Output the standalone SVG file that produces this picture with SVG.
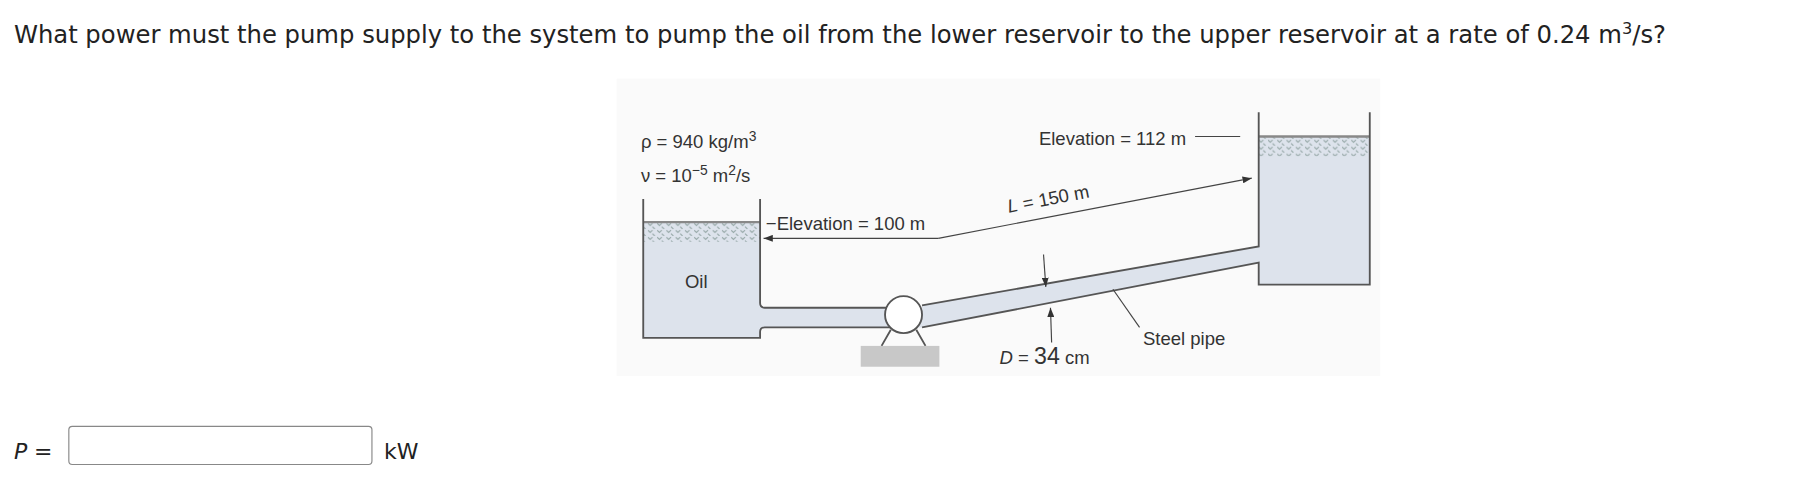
<svg xmlns="http://www.w3.org/2000/svg" width="1814" height="488" viewBox="0 0 1814 488">
<style>
.t{font-family:"DejaVu Sans","Open Sans",sans-serif;fill:#222}
.d{font-family:"Liberation Sans",Arial,sans-serif;fill:#333;font-size:16px}
.w{fill:none;stroke:#555;stroke-width:1.6}
.l{fill:none;stroke:#444;stroke-width:1}
</style>
<defs>
<pattern id="h" width="8" height="6" patternUnits="userSpaceOnUse">
<rect width="8" height="6" fill="#dde3ec"/>
<path d="M0 1 L2 3 L4 1 M4 4 L6 6" stroke="#9aa" stroke-width="1" fill="none"/>
</pattern>
<marker id="a" markerWidth="8" markerHeight="6" refX="8" refY="3" orient="auto" markerUnits="userSpaceOnUse">
<path d="M0 0 L8 3 L0 6z" fill="#333"/>
</marker>
</defs>
<rect width="1814" height="488" fill="#fff"/>
<g transform="scale(1.1569)">
<text class="t" x="12" y="37" font-size="21" textLength="1428" lengthAdjust="spacingAndGlyphs">What power must the pump supply to the system to pump the oil from the lower reservoir to the upper reservoir at a rate of 0.24 m<tspan dy="-8" font-size="14">3</tspan><tspan dy="8">/s?</tspan></text>
<rect x="533" y="68" width="660" height="257" fill="#fafafa"/>
<g id="lower-reservoir">
<path d="M556 192 H657 V262 Q657 266 661 266 H797 V283 H661 Q657 283 657 287 V292 H556Z" fill="#dde3ec"/>
<rect x="556" y="192" width="101" height="17" fill="url(#h)"/>
<line x1="556" y1="192" x2="657" y2="192" stroke="#888" stroke-width="2"/>
<path class="w" d="M556 172 V292 H657 V287 Q657 283 661 283 H770 M770 266 H661 Q657 266 657 262 V172"/>
<text class="d" x="592" y="249">Oil</text>
</g>
<g id="upper-reservoir">
<path d="M1088 118 H1184 V246 H1088 V227 L797 283 V264 L1088 213Z" fill="#dde3ec"/>
<rect x="1088" y="118" width="96" height="17" fill="url(#h)"/>
<line x1="1088" y1="118" x2="1184" y2="118" stroke="#888" stroke-width="2"/>
<path class="w" d="M1088 97 V213 L797 264 M797 283 L1088 227 V246 H1184 V97"/>
</g>
<g id="pump">
<path class="w" d="M770 285 L762 299 M792 285 L800 299"/>
<rect x="744" y="299" width="68" height="18" fill="#c8c8c8"/>
<circle cx="781" cy="272" r="16" fill="#fff" stroke="#555" stroke-width="1.6"/>
</g>
<g id="labels">
<text class="d" x="554" y="128">ρ = 940 kg/m<tspan dy="-6" font-size="12">3</tspan></text>
<text class="d" x="554" y="157">ν = 10<tspan dy="-6" font-size="12">−5</tspan><tspan dy="6"> m</tspan><tspan dy="-6" font-size="12">2</tspan><tspan dy="6">/s</tspan></text>
<text class="d" x="898" y="125">Elevation = 112 m</text>
<text class="d" x="662" y="199">−Elevation = 100 m</text>
<text class="d" transform="translate(872,184) rotate(-10.9)"><tspan font-style="italic">L</tspan> = 150 m</text>
<text class="d" x="864" y="315"><tspan font-style="italic">D</tspan> = <tspan font-size="20">34</tspan> cm</text>
<text class="d" x="988" y="298">Steel pipe</text>
</g>
<g id="connectors">
<line class="l" x1="1033" y1="118" x2="1072" y2="118"/>
<polyline class="l" points="811,206 1082,154" marker-end="url(#a)"/>
<polyline class="l" points="811,206 660,206" marker-end="url(#a)"/>
<line class="l" x1="902" y1="220" x2="904" y2="248" marker-end="url(#a)"/>
<line class="l" x1="909" y1="296" x2="908" y2="266" marker-end="url(#a)"/>
<line class="l" x1="962" y1="250" x2="985" y2="283"/>
</g>
<text class="t" x="12" y="397" font-size="19"><tspan font-style="italic">P</tspan> =</text>
<rect x="59.5" y="368.5" width="262" height="33" rx="3" fill="#fff" stroke="#888"/>
<text class="t" x="332" y="397" font-size="19">kW</text>
</g>
</svg>
